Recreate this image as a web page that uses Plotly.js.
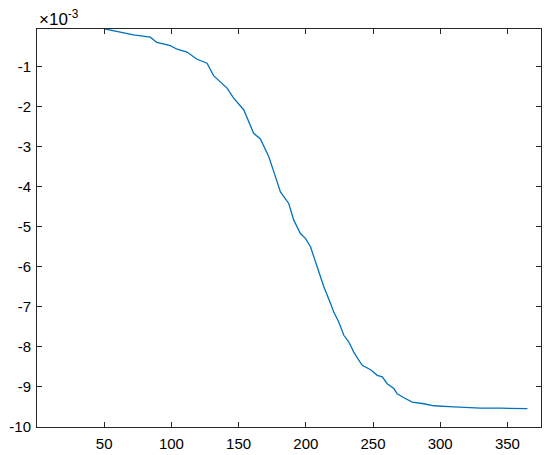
<!DOCTYPE html>
<html>
<head>
<meta charset="utf-8">
<script src="https://cdn.plot.ly/plotly-3.0.1.min.js"></script>
<style>
  html, body { margin: 0; padding: 0; background: #fff; }
  #chart { width: 550px; height: 455px; }
</style>
</head>
<body>
<div id="chart"></div>
<script>
// values, y in units of 1e-3
const xs = [50, 61.9, 71.8, 84.3, 89.2, 99.2, 104.2, 111.6, 119.1, 126.5, 131.4, 141.4, 146.3, 153.8,
    161.2, 166.2, 172.4, 177.4, 181.1, 187.3, 191.0, 196.0, 199.7, 203.5, 208.4, 213.4, 218.4, 220.8,
    224.5, 228.3, 232.0, 235.7, 239.4, 242.0, 248.2, 253.2, 256.9, 260.6, 265.5, 268.0, 273.0, 279.2,
    287.9, 295.3, 310.2, 330.1, 345.0, 364.9];
const ys = [-0.06, -0.14, -0.21, -0.27, -0.40, -0.48, -0.57, -0.64, -0.82, -0.92, -1.23, -1.54, -1.79, -2.08,
    -2.67, -2.81, -3.25, -3.75, -4.13, -4.42, -4.83, -5.17, -5.29, -5.50, -6.00, -6.50, -6.92, -7.13,
    -7.38, -7.71, -7.88, -8.13, -8.33, -8.46, -8.57, -8.71, -8.75, -8.92, -9.04, -9.17, -9.27, -9.38,
    -9.42, -9.47, -9.50, -9.53, -9.53, -9.54];

const xTicks = [50, 100, 150, 200, 250, 300, 350];
const yTicks = [-1, -2, -3, -4, -5, -6, -7, -8, -9, -10];

const axisColor = "#262626";

const data = [{
    x: xs,
    y: ys,
    type: "scatter",
    mode: "lines",
    line: { color: "#0072BD", width: 1.3 },
    hoverinfo: "skip",
}];

const layout = {
    width: 550,
    height: 455,
    margin: { l: 37, r: 9, t: 29, b: 28 },
    paper_bgcolor: "#fff",
    plot_bgcolor: "#fff",
    showlegend: false,
    font: { family: "Liberation Sans, Arial, sans-serif", size: 15, color: "#000" },
    xaxis: {
        range: [0, 375],
        tickvals: xTicks,
        ticktext: xTicks.map(String),
        ticks: "inside",
        ticklen: 5,
        tickcolor: axisColor,
        ticklabelstandoff: 3,
        showline: true,
        linecolor: axisColor,
        linewidth: 1,
        mirror: "ticks",
        showgrid: false,
        zeroline: false,
    },
    yaxis: {
        range: [-10, -0.065],
        tickvals: yTicks,
        ticktext: yTicks.map(String),
        ticks: "inside",
        ticklen: 5,
        tickcolor: axisColor,
        ticklabelstandoff: 2,
        showline: true,
        linecolor: axisColor,
        linewidth: 1,
        mirror: "ticks",
        showgrid: false,
        zeroline: false,
    },
    annotations: [{
        text: "×10<sup>-3</sup>",
        xref: "paper",
        yref: "paper",
        x: 0,
        y: 1,
        xanchor: "left",
        yanchor: "bottom",
        yshift: -2,
        showarrow: false,
        font: { size: 17, color: "#000" },
    }],
};

Plotly.newPlot("chart", data, layout, { displayModeBar: false, staticPlot: true });
</script>
</body>
</html>
